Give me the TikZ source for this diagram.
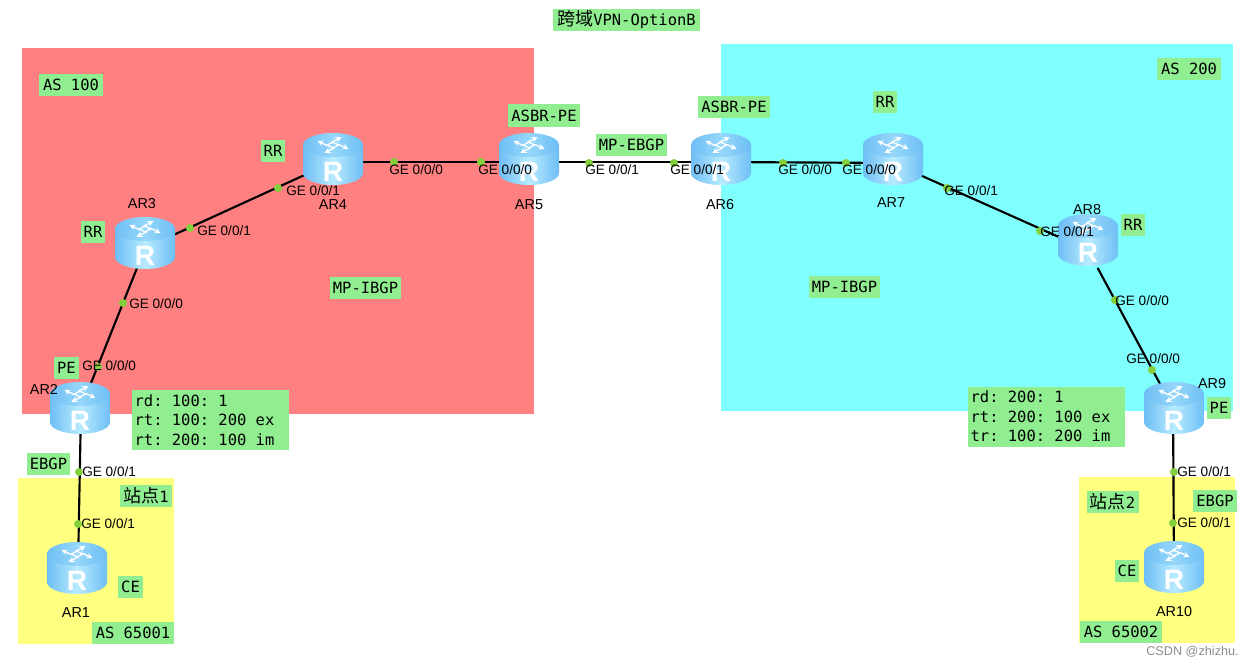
\documentclass[tikz,border=0pt]{standalone}
\usepackage{fontspec}
\setmainfont{Liberation Sans}
\newfontfamily\labelmono{DejaVu Sans Mono}
\newfontfamily\cjkfont{Noto Sans CJK SC}
\usetikzlibrary{arrows}
\newcommand{\cjktext}[1]{{\cjkfont\fontsize{13.5}{14}\selectfont #1}}
\definecolor{redarea}{RGB}{255,128,128}
\definecolor{cyanarea}{RGB}{128,255,255}
\definecolor{yellowarea}{RGB}{255,255,128}
\definecolor{taggreen}{RGB}{144,238,144}
\definecolor{portgreen}{RGB}{130,208,60}
\definecolor{routeredge}{RGB}{110,190,245}
\definecolor{routermid}{RGB}{185,235,255}
\definecolor{routertop}{RGB}{150,215,250}
\tikzset{
  tag/.style={fill=taggreen,inner sep=0pt,minimum height=16.5pt,font=\labelmono\frenchspacing\fontsize{11.6}{14}\selectfont},
  infotag/.style={tag,align=flush left,inner sep=2pt,text width=113.75pt,font=\labelmono\frenchspacing\fontsize{11.6}{14.6}\selectfont},
  routernode/.style={circle,minimum size=30pt,inner sep=0pt},
  portdot/.style={circle,fill=portgreen,minimum size=6pt,inner sep=0pt},
  portlabel/.style={anchor=west,inner sep=0pt,font=\fontsize{10.2}{12}\selectfont},
  devlabel/.style={inner sep=0pt,font=\fontsize{10.8}{12}\selectfont},
  link/.style={line width=1.6pt,black},
  routerpic/.pic={
    \path[left color=routeredge,right color=routeredge,middle color=routermid]
      (-30,14) -- (-30,-14) arc[x radius=30,y radius=12,start angle=180,end angle=360] -- (30,14) -- cycle;
    \path[left color=routeredge,right color=routeredge,middle color=routertop]
      (0,14) ellipse[x radius=30,y radius=12];
    \foreach \a in {45,135,225,315}
      \draw[white,line width=1pt,-stealth,shift={(0,14)},yscale=0.5,rotate=\a] (4,-4) -- (4,5) -- (17,5);
    \node (-mark) [white,inner sep=0pt,font=\bfseries\fontsize{21}{21}\selectfont] at (0,-13) {R};
  }
}
\begin{document}
\begin{tikzpicture}[x=0.75pt,y=0.75pt,yscale=-1,xscale=1]
\useasboundingbox (0,0) rectangle (1253,667);

% Areas
\fill[redarea] (22,48) rectangle (534,414);
\fill[cyanarea] (721,44) rectangle (1233,411);
\fill[yellowarea] (18,478) rectangle (174,644);
\fill[yellowarea] (1079,477) rectangle (1235,643);

% Routers
\node (ar1) [routernode] at (78,568) {};
\node (ar2) [routernode] at (81,408) {};
\node (ar3) [routernode] at (145,248) {};
\node (ar4) [routernode] at (333,162) {};
\node (ar5) [routernode] at (529,162) {};
\node (ar6) [routernode] at (721,162) {};
\node (ar7) [routernode] at (893,163) {};
\node (ar8) [routernode] at (1088,250) {};
\node (ar9) [routernode] at (1173,408) {};
\node (ar10) [routernode] at (1174,567) {};

% Links
\draw [link] (ar1) -- (ar2);
\draw [link] (ar2) -- (ar3);
\draw [link] (ar3) -- (ar4);
\draw [link] (ar4) -- (ar5);
\draw [link] (ar5) -- (ar6);
\draw [link] (ar6) -- (ar7);
\draw [link] (ar7) -- (ar8);
\draw [link] (ar8) -- (ar9);
\draw [link] (ar9) -- (ar10);

% Router pictures
\pic (r1) at (77,568) {routerpic};
\pic (r2) at (80,408) {routerpic};
\pic (r3) at (145,243) {routerpic};
\pic (r4) at (333,159) {routerpic};
\pic (r5) at (529,159) {routerpic};
\pic (r6) at (721,159) {routerpic};
\pic (r7) at (893,159) {routerpic};
\pic (r8) at (1088,240) {routerpic};
\pic (r9) at (1174,408) {routerpic};
\pic (r10) at (1174,567) {routerpic};

% Ports
\node (d1) [portdot] at (78,524) {};
\node (d2a) [portdot] at (79,472) {};
\node (d2b) [portdot] at (98,367) {};
\node (d3a) [portdot] at (123,303) {};
\node (d3b) [portdot] at (190,228) {};
\node (d4a) [portdot] at (278,188) {};
\node (d4b) [portdot] at (394,162) {};
\node (d5a) [portdot] at (481,162) {};
\node (d5b) [portdot] at (589,163) {};
\node (d6a) [portdot] at (674,163) {};
\node (d6b) [portdot] at (783,163) {};
\node (d7a) [portdot] at (846,163) {};
\node (d7b) [portdot] at (947,188) {};
\node (d8a) [portdot] at (1040,231) {};
\node (d8b) [portdot] at (1115,300) {};
\node (d9a) [portdot] at (1152,370) {};
\node (d9b) [portdot] at (1174,472) {};
\node (d10) [portdot] at (1173,523) {};

% Port labels
\node (g1) [portlabel] at (81,524) {GE 0/0/1};
\node (g2a) [portlabel] at (82,472) {GE 0/0/1};
\node (g2b) [portlabel] at (82,366) {GE 0/0/0};
\node (g3a) [portlabel] at (129,304) {GE 0/0/0};
\node (g3b) [portlabel] at (197,231) {GE 0/0/1};
\node (g4a) [portlabel] at (286,191) {GE 0/0/1};
\node (g4b) [portlabel] at (389,170) {GE 0/0/0};
\node (g5a) [portlabel] at (478,170) {GE 0/0/0};
\node (g5b) [portlabel] at (585,170) {GE 0/0/1};
\node (g6a) [portlabel] at (670,170) {GE 0/0/1};
\node (g6b) [portlabel] at (778,170) {GE 0/0/0};
\node (g7a) [portlabel] at (842,170) {GE 0/0/0};
\node (g7b) [portlabel] at (944,191) {GE 0/0/1};
\node (g8a) [portlabel] at (1040,232) {GE 0/0/1};
\node (g8b) [portlabel] at (1115,301) {GE 0/0/0};
\node (g9a) [portlabel] at (1126,359) {GE 0/0/0};
\node (g9b) [portlabel] at (1177,472) {GE 0/0/1};
\node (g10) [portlabel] at (1177,523) {GE 0/0/1};

% Router names
\node (n1) [devlabel] at (76,613) {AR1};
\node (n2) [devlabel] at (44,389) {AR2};
\node (n3) [devlabel] at (142,204) {AR3};
\node (n4) [devlabel] at (333,205) {AR4};
\node (n5) [devlabel] at (529,205) {AR5};
\node (n6) [devlabel] at (720,205) {AR6};
\node (n7) [devlabel] at (891,203) {AR7};
\node (n8) [devlabel] at (1087,210) {AR8};
\node (n9) [devlabel] at (1212,384) {AR9};
\node (n10) [devlabel] at (1174,612) {AR10};

% Green tags
\node (title) [tag,minimum width=110.25pt] at (626.5,20) {\cjktext{跨域}VPN-OptionB};
\node (as100) [tag,minimum width=48pt] at (71,85) {AS 100};
\node (as200) [tag,minimum width=48pt] at (1189,69) {AS 200};
\node (asbr5) [tag,minimum width=54pt] at (544,115.5) {ASBR-PE};
\node (asbr6) [tag,minimum width=54pt] at (734,107) {ASBR-PE};
\node (ebgpmid) [tag,minimum width=53pt] at (631.5,145) {MP-EBGP};
\node (rr3) [tag,minimum width=18pt] at (93,232) {RR};
\node (rr4) [tag,minimum width=18pt] at (273,151) {RR};
\node (rr7) [tag,minimum width=18pt] at (885,102) {RR};
\node (rr8) [tag,minimum width=18pt] at (1133,225) {RR};
\node (ibgp1) [tag,minimum width=53pt] at (365.5,288) {MP-IBGP};
\node (ibgp2) [tag,minimum width=53pt] at (844.5,287) {MP-IBGP};
\node (pe2) [tag,minimum width=18.75pt] at (66.5,367.5) {PE};
\node (pe9) [tag,minimum width=18pt] at (1219,408) {PE};
\node (ebgp1) [tag,minimum width=32pt] at (48.5,464) {EBGP};
\node (ebgp2) [tag,minimum width=33pt] at (1215,500.5) {EBGP};
\node (site1) [tag,minimum width=39pt] at (146,496) {\cjktext{站点}1};
\node (site2) [tag,minimum width=39pt] at (1112.5,502) {\cjktext{站点}2};
\node (ce1) [tag,minimum width=18.75pt] at (130.5,587) {CE};
\node (ce10) [tag,minimum width=18pt] at (1127,570.5) {CE};
\node (as1) [tag,minimum width=61.5pt] at (133,633) {AS 65001};
\node (as2) [tag,minimum width=61.5pt] at (1121,632) {AS 65002};
\node (info1) [infotag,minimum height=45pt] at (210.5,420) {rd: 100: 1\\rt: 100: 200 ex\\rt: 200: 100 im};
\node (info2) [infotag,minimum height=45pt] at (1046.5,416.5) {rd: 200: 1\\rt: 200: 100 ex\\tr: 100: 200 im};

% Watermark
\node (mark) [anchor=east,inner sep=0pt,text=black!45,font=\fontsize{9.5}{11}\selectfont] at (1239,652) {CSDN @zhizhu.};

\end{tikzpicture}
\end{document}
